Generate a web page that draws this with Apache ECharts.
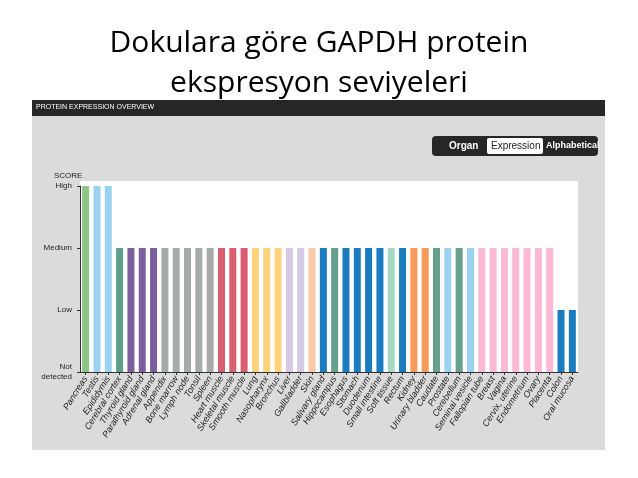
<!DOCTYPE html>
<html><head><meta charset="utf-8">
<script src="https://cdn.jsdelivr.net/npm/echarts@6/dist/echarts.min.js"></script>
<style>body{margin:0;background:#fff}#c{width:638px;height:478px}</style>
</head><body><div id="c"></div>
<script>
var tissues = ['Pancreas','Testis','Epididymis','Cerebral cortex','Thyroid gland','Parathyroid gland','Adrenal gland','Appendix','Bone marrow','Lymph node','Tonsil','Spleen','Heart muscle','Skeletal muscle','Smooth muscle','Lung','Nasopharynx','Bronchus','Liver','Gallbladder','Skin','Salivary gland','Hippocampus','Esophagus','Stomach','Duodenum','Small intestine','Soft tissue','Rectum','Kidney','Urinary bladder','Caudate','Prostate','Cerebellum','Seminal vesicle','Fallopian tube','Breast','Vagina','Cervix, uterine','Endometrium','Ovary','Placenta','Colon','Oral mucosa'];
// 0 = not detected, 1 = low, 2 = medium, 3 = high
var scores = [3,3,3,2,2,2,2,2,2,2,2,2,2,2,2,2,2,2,2,2,2,2,2,2,2,2,2,2,2,2,2,2,2,2,2,2,2,2,2,2,2,2,1,1];
var barColors = ['#8cc585','#99d3f0','#99d3f0','#5e9e8a','#7b5e9c','#7b5e9c','#7b5e9c','#a6aaaa','#a6aaaa','#a6aaaa','#a6aaaa','#a6aaaa','#d95f70','#d95f70','#d95f70','#fdd27d','#fdd27d','#fdd27d','#d5c9e5','#d5c9e5','#fcc6a7','#1a7cbf','#65a08e','#1a7cbf','#1a7cbf','#1a7cbf','#1a7cbf','#a5d9c6','#1a7cbf','#f79a5a','#f79a5a','#65a08e','#99d3f0','#65a08e','#99d3f0','#fbb9d4','#fbb9d4','#fbb9d4','#fbb9d4','#fbb9d4','#fbb9d4','#fbb9d4','#1a7cbf','#1a7cbf'];
var levelLabels = ['Not\ndetected','Low','Medium','High'];

var data = [];
for (var i = 0; i < scores.length; i++) {
    data.push({value: scores[i], itemStyle: {color: barColors[i]}});
}

var chart = echarts.init(document.getElementById('c'));
chart.setOption({
    animation: false,
    title: {
        text: 'Dokulara göre GAPDH protein\nekspresyon seviyeleri',
        left: 'center', top: 18,
        textStyle: {fontFamily: 'Open Sans', fontWeight: 'normal', fontSize: 30, lineHeight: 40, color: '#000'}
    },
    graphic: [
        {type: 'rect', shape: {x: 32, y: 115, width: 573, height: 335}, style: {fill: '#dcdbdc'}, z: -10},
        {type: 'rect', shape: {x: 32, y: 100, width: 573, height: 16}, style: {fill: '#262626'}, z: -9},
        {type: 'text', x: 36, y: 104, style: {text: 'PROTEIN EXPRESSION OVERVIEW', fill: '#fff', font: '7px Liberation Sans'}},
        {type: 'rect', shape: {x: 432, y: 136, width: 166, height: 20, r: 4}, style: {fill: '#262626'}},
        {type: 'rect', shape: {x: 487, y: 138, width: 56, height: 16, r: 2}, style: {fill: '#fff'}},
        {type: 'text', x: 449, y: 141, style: {text: 'Organ', fill: '#fff', font: 'bold 10px Liberation Sans'}},
        {type: 'text', x: 491, y: 141, style: {text: 'Expression', fill: '#222', font: '10px Liberation Sans'}},
        {type: 'text', x: 546, y: 141, style: {text: 'Alphabetical', fill: '#fff', font: 'bold 9px Liberation Sans'}},
        {type: 'text', x: 54, y: 172, style: {text: 'SCORE', fill: '#222', font: '8px Liberation Sans'}},
        {type: 'rect', shape: {x: 80, y: 181, width: 498, height: 191}, style: {fill: '#fff'}, z: -5}
    ],
    grid: {left: 80, right: 60, top: 186, bottom: 106},
    xAxis: {
        type: 'category', data: tissues,
        axisLine: {lineStyle: {color: '#333'}},
        axisTick: {show: true, alignWithLabel: true, length: 3, lineStyle: {color: '#333'}},
        axisLabel: {rotate: 58, interval: 0, fontSize: 9, fontStyle: 'italic', color: '#222', margin: 5}
    },
    yAxis: {
        type: 'value', min: 0, max: 3, interval: 1,
        axisLine: {show: true, lineStyle: {color: '#333'}},
        axisTick: {show: true, length: 3},
        splitLine: {show: false},
        axisLabel: {fontSize: 8, color: '#222', lineHeight: 10, formatter: function (v) { return levelLabels[v]; }}
    },
    series: [{type: 'bar', data: data, barWidth: 7}]
});
</script></body></html>
